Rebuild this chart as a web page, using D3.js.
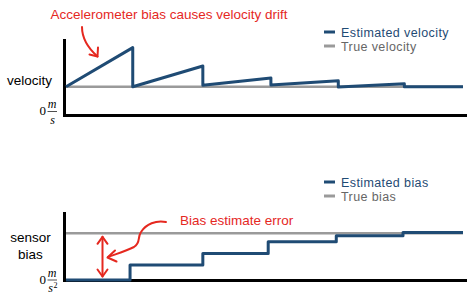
<!DOCTYPE html>
<html>
<head>
<meta charset="utf-8">
<script src="https://cdn.jsdelivr.net/npm/d3@7"></script>
<style>
  html, body { margin: 0; padding: 0; background: #fff; }
  svg { display: block; }
  text { font-family: "Liberation Sans", Arial, Helvetica, sans-serif; }
  .unit { font-family: "Liberation Serif", "Times New Roman", serif; }
</style>
</head>
<body>
<svg id="chart" width="474" height="300"></svg>
<script>
// ---- data ----
// Velocity panel: estimate drifts upward between corrections, then snaps back.
const velTime      = [0, 0.99, 0.99, 2.03, 2.03, 3.04, 3.04, 4.04, 4.04, 5.02, 5.02, 5.89];
const velEstimated = [1.0, 2.38, 1.0, 1.73, 1.05, 1.31, 1.06, 1.21, 0.99, 1.10, 1.0, 1.0];
const velTrueTime  = [0, 5.89];
const velTrue      = [1.0, 1.0];

// Bias panel: estimate steps up toward the true bias at each correction.
const biasTime      = [0, 0.95, 2.03, 3.0, 4.01, 5.0, 5.89];
const biasEstimated = [0, 0.32, 0.57, 0.82, 0.95, 1.02, 1.02];
const biasTrueTime  = [0, 5.89];
const biasTrue      = [1.0, 1.0];

// Text
const velLegend  = ["Estimated velocity", "True velocity"];
const biasLegend = ["Estimated bias", "True bias"];
const velNote    = "Accelerometer bias causes velocity drift";
const biasNote   = "Bias estimate error";

// ---- styles ----
const BLUE = "#1f4b74", GRAY = "#9a9a9a", RED = "#e5281f", TEXTGRAY = "#666";
const FS = 13.5;

const svg = d3.select("#chart");

const x = d3.scaleLinear().domain([-0.03, 5.92]).range([64, 465]);
const yVel  = d3.scaleLinear().domain([0, 2.65]).range([115, 40]);
const yBias = d3.scaleLinear().domain([0, 1.435]).range([280, 213]);

function zip(a, b) { return a.map((d, i) => [d, b[i]]); }

function panel(yScale, est, truth, curve) {
  const g = svg.append("g");
  // axes: plain lines, no ticks
  g.append("g").attr("transform", `translate(0,${yScale(0)})`)
    .call(d3.axisBottom(x).tickValues([]).tickSizeOuter(0));
  g.append("g").attr("transform", `translate(${x.range()[0]},0)`)
    .call(d3.axisLeft(yScale).tickValues([]).tickSizeOuter(0));
  g.selectAll(".domain").attr("stroke", "#000").attr("stroke-width", 3)
    .attr("stroke-linecap", "square");

  const line = d3.line().x(d => x(d[0])).y(d => yScale(d[1]));
  g.append("path").datum(truth).attr("d", line.curve(d3.curveLinear))
    .attr("fill", "none").attr("stroke", GRAY).attr("stroke-width", 2.5);
  g.append("path").datum(est).attr("d", line.curve(curve))
    .attr("fill", "none").attr("stroke", BLUE).attr("stroke-width", 3)
    .attr("stroke-linejoin", "round");
  return g;
}

panel(yVel, zip(velTime, velEstimated), zip(velTrueTime, velTrue), d3.curveLinear);
panel(yBias, zip(biasTime, biasEstimated), zip(biasTrueTime, biasTrue), d3.curveStepAfter);

// ---- legends ----
function legend(yTop, labels) {
  const colors = [BLUE, GRAY], tcolors = [BLUE, TEXTGRAY];
  labels.forEach((lab, i) => {
    const cy = yTop + i * 14;
    svg.append("line").attr("x1", 324).attr("x2", 335).attr("y1", cy).attr("y2", cy)
      .attr("stroke", colors[i]).attr("stroke-width", 3);
    svg.append("text").attr("x", 341).attr("y", cy + 4.5)
      .attr("font-size", 12.5).attr("letter-spacing", 0.4)
      .attr("fill", tcolors[i]).text(lab);
  });
}
legend(32, velLegend);
legend(182, biasLegend);

// ---- axis labels ----
svg.append("text").attr("x", 7).attr("y", 84.5).attr("font-size", FS).text("velocity");
svg.append("text").attr("x", 30.5).attr("y", 242).attr("font-size", FS)
  .attr("text-anchor", "middle").text("sensor");
svg.append("text").attr("x", 30.5).attr("y", 258.5).attr("font-size", FS)
  .attr("text-anchor", "middle").text("bias");

// zero label with a unit fraction
function zeroUnit(y0, dy, squared) {
  const b = y0 + dy;
  svg.append("text").attr("class", "unit").attr("x", 46).attr("y", b)
    .attr("font-size", 13).attr("text-anchor", "end").text("0");
  svg.append("text").attr("class", "unit").attr("x", 52).attr("y", b - 7)
    .attr("font-size", 12).attr("font-style", "italic").attr("text-anchor", "middle").text("m");
  svg.append("line").attr("x1", 47.5).attr("x2", 57).attr("y1", b - 3.5).attr("y2", b - 3.5)
    .attr("stroke", "#222").attr("stroke-width", 0.8);
  svg.append("text").attr("class", "unit").attr("x", squared ? 50.5 : 52.5)
    .attr("y", b + 8.5).attr("font-size", 12).attr("font-style", "italic")
    .attr("text-anchor", "middle").text("s");
  if (squared) {
    svg.append("text").attr("class", "unit").attr("x", 53.5).attr("y", b + 4)
      .attr("font-size", 8).text("2");
  }
}
zeroUnit(yVel(0), 0, false);
zeroUnit(yBias(0), 3.5, true);

// ---- annotations ----
svg.append("text").attr("x", 50.5).attr("y", 19).attr("font-size", FS)
  .attr("fill", RED).text(velNote);
svg.append("text").attr("x", 180).attr("y", 224.8).attr("font-size", FS)
  .attr("fill", RED).text(biasNote);

const arrow = (d) => svg.append("path").attr("d", d).attr("fill", "none")
  .attr("stroke", RED).attr("stroke-width", 2).attr("stroke-linecap", "round")
  .attr("stroke-linejoin", "round");

// drift arrow
arrow("M82,27 C82,37 88,48 97.5,56.5");
arrow("M89.5,54.5 L97.5,56.5 L98,47.5");

// curly arrow to the error span
arrow("M166,222 C156,220 146,224 141,232 C137,238 141,243 134,247 C126,251 116,254 108,257");
arrow("M115,250.5 L107.5,257.5 L116.5,261.5");

// double-headed arrow spanning the bias error
const ex = 102.5;
arrow(`M${ex},${yBias(1) + 3.5} L${ex},${yBias(0) - 3.5}`);
arrow(`M${ex - 5},${yBias(1) + 10.5} L${ex},${yBias(1) + 3.5} L${ex + 5},${yBias(1) + 10.5}`);
arrow(`M${ex - 5},${yBias(0) - 10.5} L${ex},${yBias(0) - 3.5} L${ex + 5},${yBias(0) - 10.5}`);
</script>
</body>
</html>
